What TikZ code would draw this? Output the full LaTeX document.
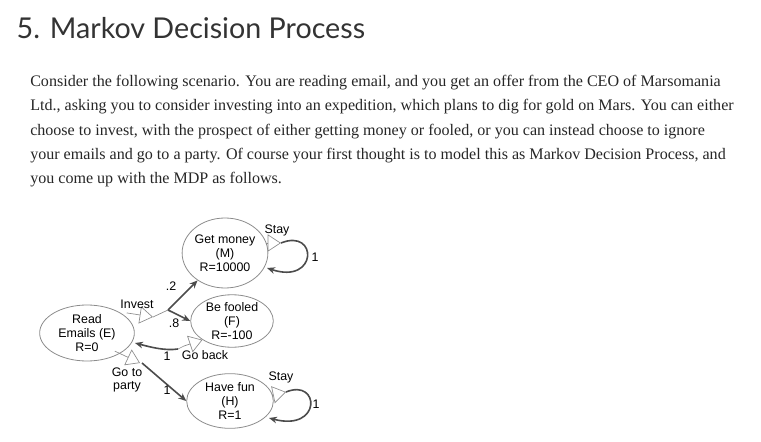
\documentclass[tikz,border=0pt]{standalone}
\usepackage{fontspec}
\setmainfont{Liberation Serif}
\newfontfamily\titlefont{Lato}
\newfontfamily\dfont{Liberation Sans}
\usetikzlibrary{arrows.meta,shapes.geometric}
\begin{document}
\begin{tikzpicture}[x=0.75pt,y=-0.75pt,
  st/.style={draw=black!45,ellipse,line width=0.6pt,inner sep=0pt,align=center,font=\dfont\fontsize{9.3}{10.5}\selectfont},
  lb/.style={font=\dfont\fontsize{9.3}{10}\selectfont,inner sep=1pt,align=center},
  act/.style={draw=black!45,line width=0.5pt,-{Triangle[open,width=13pt,length=10pt]}},
  tr/.style={draw=black!70,line width=1.2pt,-{Stealth[length=6pt,width=5pt]}}]
\useasboundingbox (0,0) rectangle (761,442);
\node[anchor=west,font=\titlefont\fontsize{21.5}{24}\selectfont,text=black!80] (title) at (12,28) {5. Markov Decision Process};
\node[anchor=north west,align=left,font=\fontsize{12.05}{18.2}\selectfont,inner sep=0pt,text=black!85] (para) at (30,75)
 {Consider the following scenario. You are reading email, and you get an offer from the CEO of Marsomania\\
 Ltd., asking you to consider investing into an expedition, which plans to dig for gold on Mars. You can either\\
 choose to invest, with the prospect of either getting money or fooled, or you can instead choose to ignore\\
 your emails and go to a party. Of course your first thought is to model this as Markov Decision Process, and\\
 you come up with the MDP as follows.};
\node[st,minimum width=71pt,minimum height=42pt] (E) at (87,333) {Read\\Emails (E)\\R=0};
\node[st,minimum width=55.5pt,minimum height=52.5pt] (M) at (225,253) {Get money\\(M)\\R=10000};
\node[st,minimum width=62pt,minimum height=37.5pt] (F) at (232,321) {Be fooled\\(F)\\R=-100};
\node[st,minimum width=65pt,minimum height=41pt] (H) at (230,401) {Have fun\\(H)\\R=1};
% invest
\coordinate (ci) at (168,310);
\draw[act] (E.north east) ++(6,0) -- (153,317);
\draw[black!45,line width=0.5pt] (153,317) -- (ci);
\draw[tr] (ci) -- (M);
\draw[tr] (ci) -- (F.west);
\node[lb] (linv) at (137,304) {Invest};
\node[lb] (l2) at (171,286) {.2};
\node[lb] (l8) at (174,323) {.8};
% go back
\coordinate (cg) at (178,349);
\draw[act] (184,346) -- (F.south west);
\draw[tr] (cg) .. controls (165,351) and (150,347) .. (135,343);
\draw[black!45,line width=0.5pt] (184,346) -- (cg);
\node[lb] (l1g) at (167,356) {1};
\node[lb] (lgb) at (205,355) {Go back};
% party
\coordinate (cp) at (142,363);
\draw[act] (E.south east) ++(-6,-2) -- (140,363);
\draw[tr] (cp) -- (H.west);
\node[lb] (lgp) at (127,380) {Go to\\party};
\node[lb] (l1p) at (167,390) {1};
% stay loops
\coordinate (lm) at (281,243);
\draw[act] (M.east) ++(-2,-10) -- (lm);
\draw[tr] (lm) .. controls (318,228) and (318,285) .. (267,268);
\node[lb] (lsm) at (277,230) {Stay};
\node[lb] (l1m) at (315,257) {1};
\coordinate (lh) at (286,392);
\draw[act] (H.east) ++(-2,-6) -- (lh);
\draw[tr] (lh) .. controls (320,378) and (322,432) .. (269,418);
\node[lb] (lsh) at (281,377) {Stay};
\node[lb] (l1h) at (316,404) {1};
\end{tikzpicture}
\end{document}
